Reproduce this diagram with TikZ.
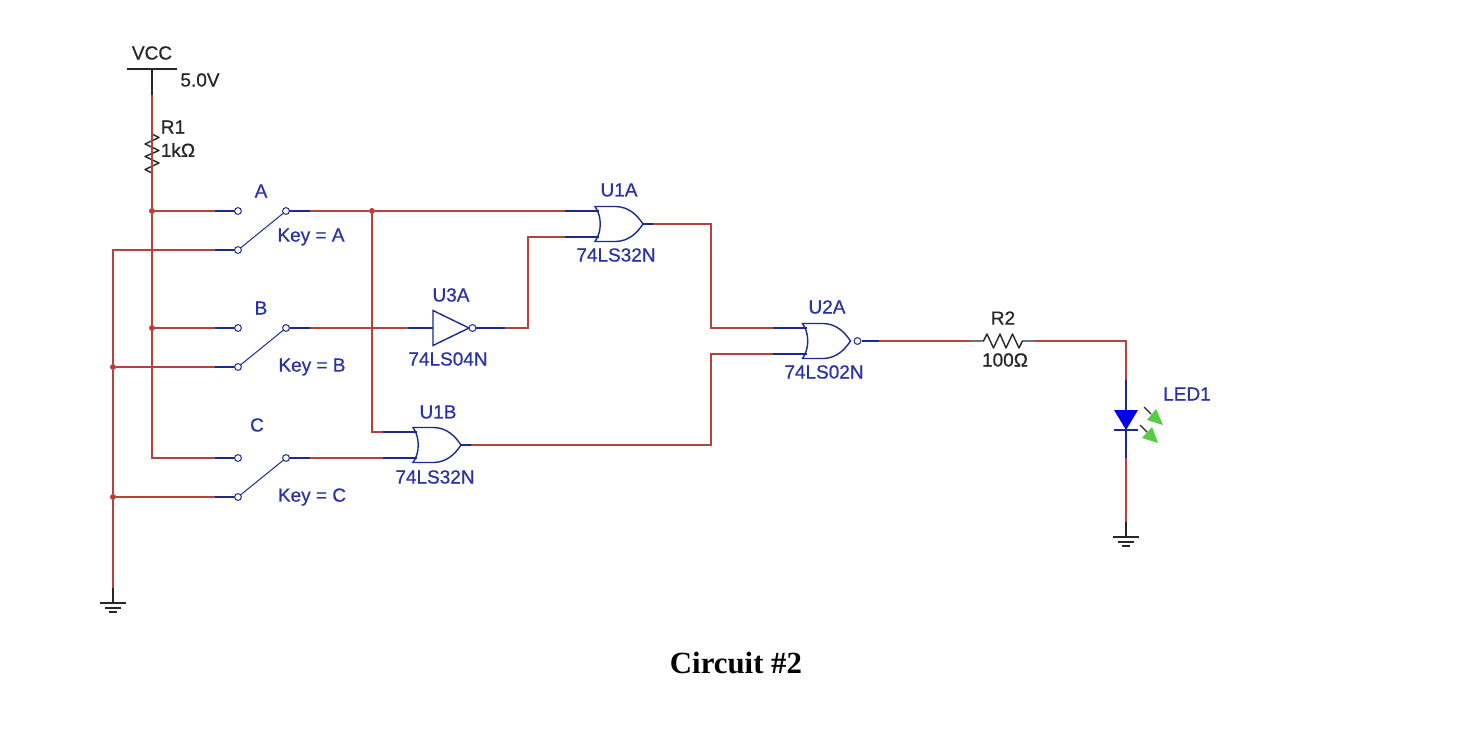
\documentclass[tikz,border=0pt]{standalone}
\usepackage{fontspec}
\setmainfont{Liberation Sans}
\newfontfamily\capfont{Liberation Serif}
\definecolor{wirered}{HTML}{B5423F}
\definecolor{pinblue}{HTML}{1C2A8E}
\definecolor{labblue}{HTML}{2A32A6}
\definecolor{ledgreen}{HTML}{55CC44}
\newcommand{\gatebody}{%
  \draw[pin] (-24,-17.5) -- (-3,-17.5) .. controls (10,-17) and (18,-9) .. (24,0)
    .. controls (18,9) and (10,17) .. (-3,17.5) -- (-24,17.5)
    .. controls (-17,8) and (-17,-8) .. cycle;
  \coordinate (-in1) at (-54,-13);
  \coordinate (-in2) at (-54,13);
  \draw[pin] (-in1) -- (-20,-13);
  \draw[pin] (-in2) -- (-20,13);
}
\tikzset{
  wire/.style={draw=wirered,line width=.8pt},
  pin/.style={draw=pinblue,line width=.7pt},
  blk/.style={draw=black!85,line width=.7pt,line join=round},
  dot/.style={circle,fill=wirered!90!red,inner sep=0pt,minimum size=3pt},
  contact/.style={circle,draw=pinblue,fill=white,line width=.5pt,inner sep=0pt,minimum size=3.4pt},
  lab/.style={text=labblue,font=\addfontfeature{FakeBold=.6}\fontsize{9.5}{11}\selectfont,inner sep=0pt},
  blab/.style={text=black!85,font=\addfontfeature{FakeBold=.6}\fontsize{9.5}{11}\selectfont,inner sep=0pt},
  orgate/.pic={
    \gatebody
    \coordinate (-out) at (34,0);
    \draw[pin] (24,0) -- (-out);
  },
  norgate/.pic={
    \gatebody
    \coordinate (-out) at (52,0);
    \draw[pin] (35,0) -- (-out);
    \node[contact] (-bub) at (31,0) {};
  },
  notgate/.pic={
    \coordinate (-in) at (-43,0);
    \coordinate (-out) at (54,0);
    \draw[pin] (-in) -- (-18,0);
    \draw[pin] (-18,-17.5) -- (18,0) -- (-18,17.5) -- cycle;
    \draw[pin] (25,0) -- (-out);
    \node[contact] (-bub) at (21.5,0) {};
  },
  switch/.pic={
    \coordinate (-p1) at (-23,0);
    \coordinate (-p2) at (-23,39);
    \coordinate (-p3) at (72,0);
    \draw[pin] (-p1) -- (0,0);
    \draw[pin] (-p2) -- (0,39);
    \draw[pin] (48,0) -- (-p3);
    \draw[pin,line width=.5pt] (48,0) -- (0,39);
    \node[contact] (-up) at (0,0) {};
    \node[contact] (-dn) at (0,39) {};
    \node[contact] (-com) at (48,0) {};
  },
  resistor/.pic={
    \coordinate (-a) at (-33,0);
    \coordinate (-b) at (33,0);
    \draw[blk] (-a) -- (-19.5,0) -- (-16,-7) -- (-9.5,7) -- (-3,-7) -- (3,7) -- (9.5,-7) -- (16,7) -- (19.5,0) -- (-b);
  },
  ground/.pic={
    \coordinate (-top) at (0,-15);
    \draw[blk] (-top) -- (0,0);
    \draw[blk] (-13,0) -- (13,0);
    \draw[blk] (-8,5) -- (8,5);
    \draw[blk] (-4,9) -- (4,9);
  },
  led/.pic={
    \coordinate (-a) at (0,-50);
    \coordinate (-k) at (0,28);
    \draw[pin] (-a) -- (-k);
    \fill[blue!90!black] (-12,-20) -- (12,-20) -- (0,0) -- cycle;
    \draw[pin] (-12,0) -- (12,0);
    \draw[blk] (18,-23) -- (25,-16);
    \draw[blk] (14,-5) -- (21,2);
    \fill[ledgreen] (30,-21) -- (37,-5) -- (21,-10) -- cycle;
    \fill[ledgreen] (26,-3) -- (32,13) -- (16,8) -- cycle;
  },
}
\begin{document}
\begin{tikzpicture}[x=.5pt,y=-.5pt]
  \useasboundingbox (0,0) rectangle (1480,734);
  % parts
  \coordinate (vcctop) at (152,69);
  \coordinate (vccend) at (152,95);
  \draw[blk] (127,69) -- (177,69);
  \draw[blk] (vcctop) -- (vccend);
  \pic[rotate=90] (r1) at (152,153.5) {resistor};
  \foreach \nm/\ya in {A/211,B/328,C/458}
    \pic (sw\nm) at (238,\ya) {switch};
  \pic (u1a) at (619,224) {orgate};
  \pic (u1b) at (437,445) {orgate};
  \pic (u2a) at (826.5,341) {norgate};
  \pic (u3a) at (451,328) {notgate};
  \pic (r2) at (1003,341) {resistor};
  \pic (led1) at (1126,430) {led};
  \pic (gnda) at (113,603) {ground};
  \pic (gndb) at (1126,537) {ground};
  % junctions
  \node[dot] (ja) at (152,211) {};
  \node[dot] (jb) at (152,328) {};
  \node[dot] (jc) at (372,211) {};
  \node[dot] (jd) at (113,367) {};
  \node[dot] (je) at (113,497) {};
  \coordinate (bendu) at (528,237);
  \coordinate (bendl) at (711,328);
  \coordinate (bendm) at (711,354);
  % wires
  \draw[wire] (vccend) -- (r1-a);
  \draw[wire] (r1-b) -- (ja);
  \draw[wire] (ja) -- (jb);
  \draw[wire] (ja) -- (swA-p1);
  \draw[wire] (jb) -- (swB-p1);
  \draw[wire] (jb) |- (swC-p1);
  \draw[wire] (swA-p2) -| (jd);
  \draw[wire] (jd) -- (swB-p2);
  \draw[wire] (jd) -- (je);
  \draw[wire] (je) -- (swC-p2);
  \draw[wire] (je) -- (gnda-top);
  \draw[wire] (swA-p3) -- (jc);
  \draw[wire] (jc) -- (u1a-in1);
  \draw[wire] (jc) |- (u1b-in1);
  \draw[wire] (swB-p3) -- (u3a-in);
  \draw[wire] (swC-p3) -- (u1b-in2);
  \draw[wire] (u3a-out) -| (bendu) -- (u1a-in2);
  \draw[wire] (u1a-out) -| (bendl) -- (u2a-in1);
  \draw[wire] (u1b-out) -| (bendm) -- (u2a-in2);
  \draw[wire] (u2a-out) -- (r2-a);
  \draw[wire] (r2-b) -| (led1-a);
  \draw[wire] (led1-k) -- (gndb-top);
  % labels
  \node[blab] (lvcc) at (152,53) {VCC};
  \node[blab] (lvolt) at (200,80) {5.0V};
  \node[blab] (lr1) at (173,127) {R1};
  \node[blab] (lr1v) at (178,150) {1kΩ};
  \node[lab] (la) at (261,191) {A};
  \node[lab] (lka) at (311,237) {Key = A};
  \node[lab] (lb) at (261,308) {B};
  \node[lab] (lkb) at (312,367) {Key = B};
  \node[lab] (lc) at (257,425) {C};
  \node[lab] (lkc) at (312,497) {Key = C};
  \node[lab] (lu1a) at (619,190) {U1A};
  \node[lab] (lu1at) at (616,255) {74LS32N};
  \node[lab] (lu3a) at (451,295) {U3A};
  \node[lab] (lu3at) at (448,359) {74LS04N};
  \node[lab] (lu1b) at (438,412) {U1B};
  \node[lab] (lu1bt) at (435,477) {74LS32N};
  \node[lab] (lu2a) at (827,307) {U2A};
  \node[lab] (lu2at) at (824,372) {74LS02N};
  \node[blab] (lr2) at (1003,318) {R2};
  \node[blab] (lr2v) at (1005,360) {100Ω};
  \node[lab] (lled) at (1187,394) {LED1};
  \node[inner sep=0pt,font=\capfont\bfseries\fontsize{15.4}{18}\selectfont] (caption) at (736,663) {Circuit \#2};
\end{tikzpicture}
\end{document}
